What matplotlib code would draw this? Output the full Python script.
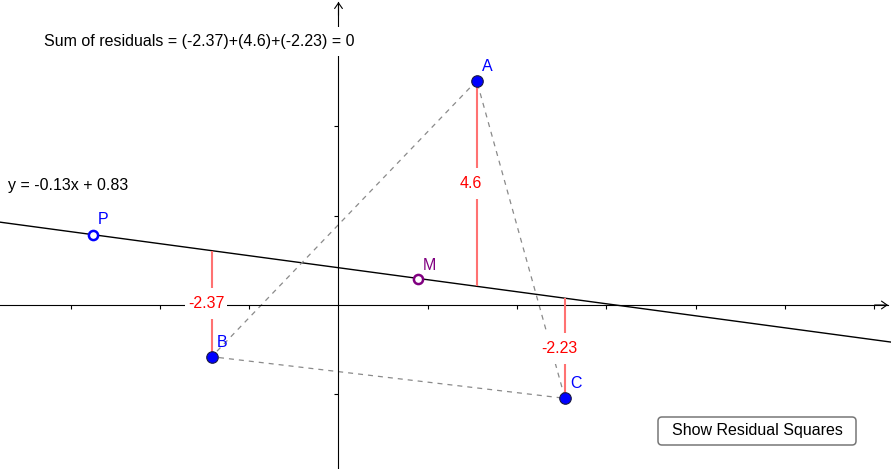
import matplotlib
matplotlib.use('Agg')
import matplotlib.pyplot as plt
from matplotlib.patches import Rectangle, FancyBboxPatch
from matplotlib.transforms import IdentityTransform
import numpy as np

plt.rcParams['font.family'] = ['Liberation Sans', 'DejaVu Sans']

# ---- data ----
point_names = ['A', 'B', 'C']
point_x = [3.095, -2.84, 5.073]
point_y = [5.024, -1.158, -2.09]
residual_labels = ['4.6', '-2.37', '-2.23']
mean_name = 'M'
mean_xy = (1.776, 0.592)
slider_name = 'P'
slider_xy = (-5.505, 1.568)
slope = -0.1346
intercept = 0.835
line_label = 'y = -0.13x + 0.83'
sum_label = 'Sum of residuals = (-2.37)+(4.6)+(-2.23) = 0'
button_label = 'Show Residual Squares'
xticks = [-6, -4, -2, 2, 4, 6, 8, 10, 12]
yticks = [-2, 2, 4, 6]

# ---- figure / view ----
W, H = 891, 469
fig = plt.figure(figsize=(W / 100, H / 100), dpi=100)
ax = fig.add_axes([0, 0, 1, 1])
ox, oy, s = 338.5, 305.0, 44.65
xmin, xmax = -ox / s, (W - ox) / s
ymin, ymax = (oy - H) / s, oy / s
ax.set_xlim(xmin, xmax)
ax.set_ylim(ymin, ymax)

fs = 11.5

# axes as spines through zero
for sp in ['top', 'right']:
    ax.spines[sp].set_visible(False)
ax.spines['left'].set_position(('data', 0))
ax.spines['bottom'].set_position(('data', 0))
x_end = (888 - ox) / s
y_end = (oy - 2) / s
ax.spines['bottom'].set_bounds(xmin, x_end)
ax.spines['left'].set_bounds(ymin, y_end)
for sp in ['left', 'bottom']:
    ax.spines[sp].set_linewidth(0.8)
ax.set_xticks(xticks)
ax.set_yticks(yticks)
ax.set_xticklabels([])
ax.set_yticklabels([])
ax.tick_params(direction='out', length=3, width=0.8)
ax.patch.set_facecolor('white')

arrow = dict(arrowstyle='->,head_length=0.4,head_width=0.28', lw=0.8,
             color='black', shrinkA=0, shrinkB=0, mutation_scale=10)
ax.annotate('', xy=(x_end, 0), xytext=(x_end - 0.3, 0), arrowprops=arrow,
            annotation_clip=False)
ax.annotate('', xy=(0, y_end), xytext=(0, y_end - 0.3), arrowprops=arrow,
            annotation_clip=False)

# regression line
ax.axline((0, intercept), slope=slope, color='black', lw=1.0, zorder=2)

# dashed triangle
tx = point_x + [point_x[0]]
ty = point_y + [point_y[0]]
ax.plot(tx, ty, color='#8a8a8a', lw=0.9, dashes=(4, 4), zorder=2)

# residual segments
px = np.array(point_x)
py = np.array(point_y)
line_vals = slope * px + intercept
ax.vlines(px, line_vals, py, color='#ff7272', lw=1.5, zorder=3)

fig.canvas.draw()
renderer = fig.canvas.get_renderer()
for x, y0, y1, lab in zip(px, line_vals, py, residual_labels):
    mid = (y0 + y1) / 2
    t = ax.text(x, mid, lab, color='#ff0000', fontsize=fs, ha='center',
                va='center', zorder=5)
    # GeoGebra places the caption slightly left of the segment
    from matplotlib.transforms import offset_copy
    t.set_transform(offset_copy(ax.transData, fig=fig, x=-5.5, y=0, units='dots'))
    bb = t.get_window_extent(renderer)
    cx = (bb.x0 + bb.x1) / 2
    _, cy = ax.transData.transform((x, mid))
    w = bb.width + 6
    h = 31
    ax.add_patch(Rectangle((cx - w / 2, cy - h / 2), w, h,
                           transform=IdentityTransform(), facecolor='white',
                           edgecolor='none', zorder=4))

# points
ax.plot(px, py, 'o', ms=8.3, mfc='#0000ff', mec='#1a1a40', mew=0.8,
        zorder=6, linestyle='none')
ax.plot([mean_xy[0]], [mean_xy[1]], 'o', ms=6.6, mfc='white', mec='#800080',
        mew=1.8, zorder=6)
ax.plot([slider_xy[0]], [slider_xy[1]], 'o', ms=6.6, mfc='white',
        mec='#0000ff', mew=1.8, zorder=6)

for name, x, y in zip(point_names, px, py):
    ax.annotate(name, (x, y), xytext=(5, 10), textcoords='offset pixels',
                color='#0000ff', fontsize=fs, ha='left', va='baseline', zorder=7)
ax.annotate(mean_name, mean_xy, xytext=(4.5, 9), textcoords='offset pixels',
            color='#800080', fontsize=fs, ha='left', va='baseline', zorder=7)
ax.annotate(slider_name, slider_xy, xytext=(5, 10.5), textcoords='offset pixels',
            color='#0000ff', fontsize=fs, ha='left', va='baseline', zorder=7)

# texts
ax.text(43.5 / W, 1 - 46 / H, sum_label, transform=ax.transAxes, fontsize=fs,
        ha='left', va='baseline', color='black', zorder=8,
        bbox=dict(facecolor='white', edgecolor='none', pad=4.7))
ax.text(8 / W, 1 - 190 / H, line_label, transform=ax.transAxes, fontsize=fs,
        ha='left', va='baseline', color='black', zorder=8)

# button
bx0, bx1, by0, by1 = 658, 856, 417, 445
ax.add_patch(FancyBboxPatch((bx0, H - by1), bx1 - bx0, by1 - by0,
                            boxstyle='round,pad=0,rounding_size=4',
                            transform=IdentityTransform(), facecolor='white',
                            edgecolor='#767676', lw=1.1, zorder=8))
ax.text((bx0 + bx1) / 2 / W, 1 - (by0 + by1) / 2 / H, button_label,
        transform=ax.transAxes, fontsize=fs, ha='center', va='center',
        color='black', zorder=9)

fig.savefig('out.png', dpi=100)
